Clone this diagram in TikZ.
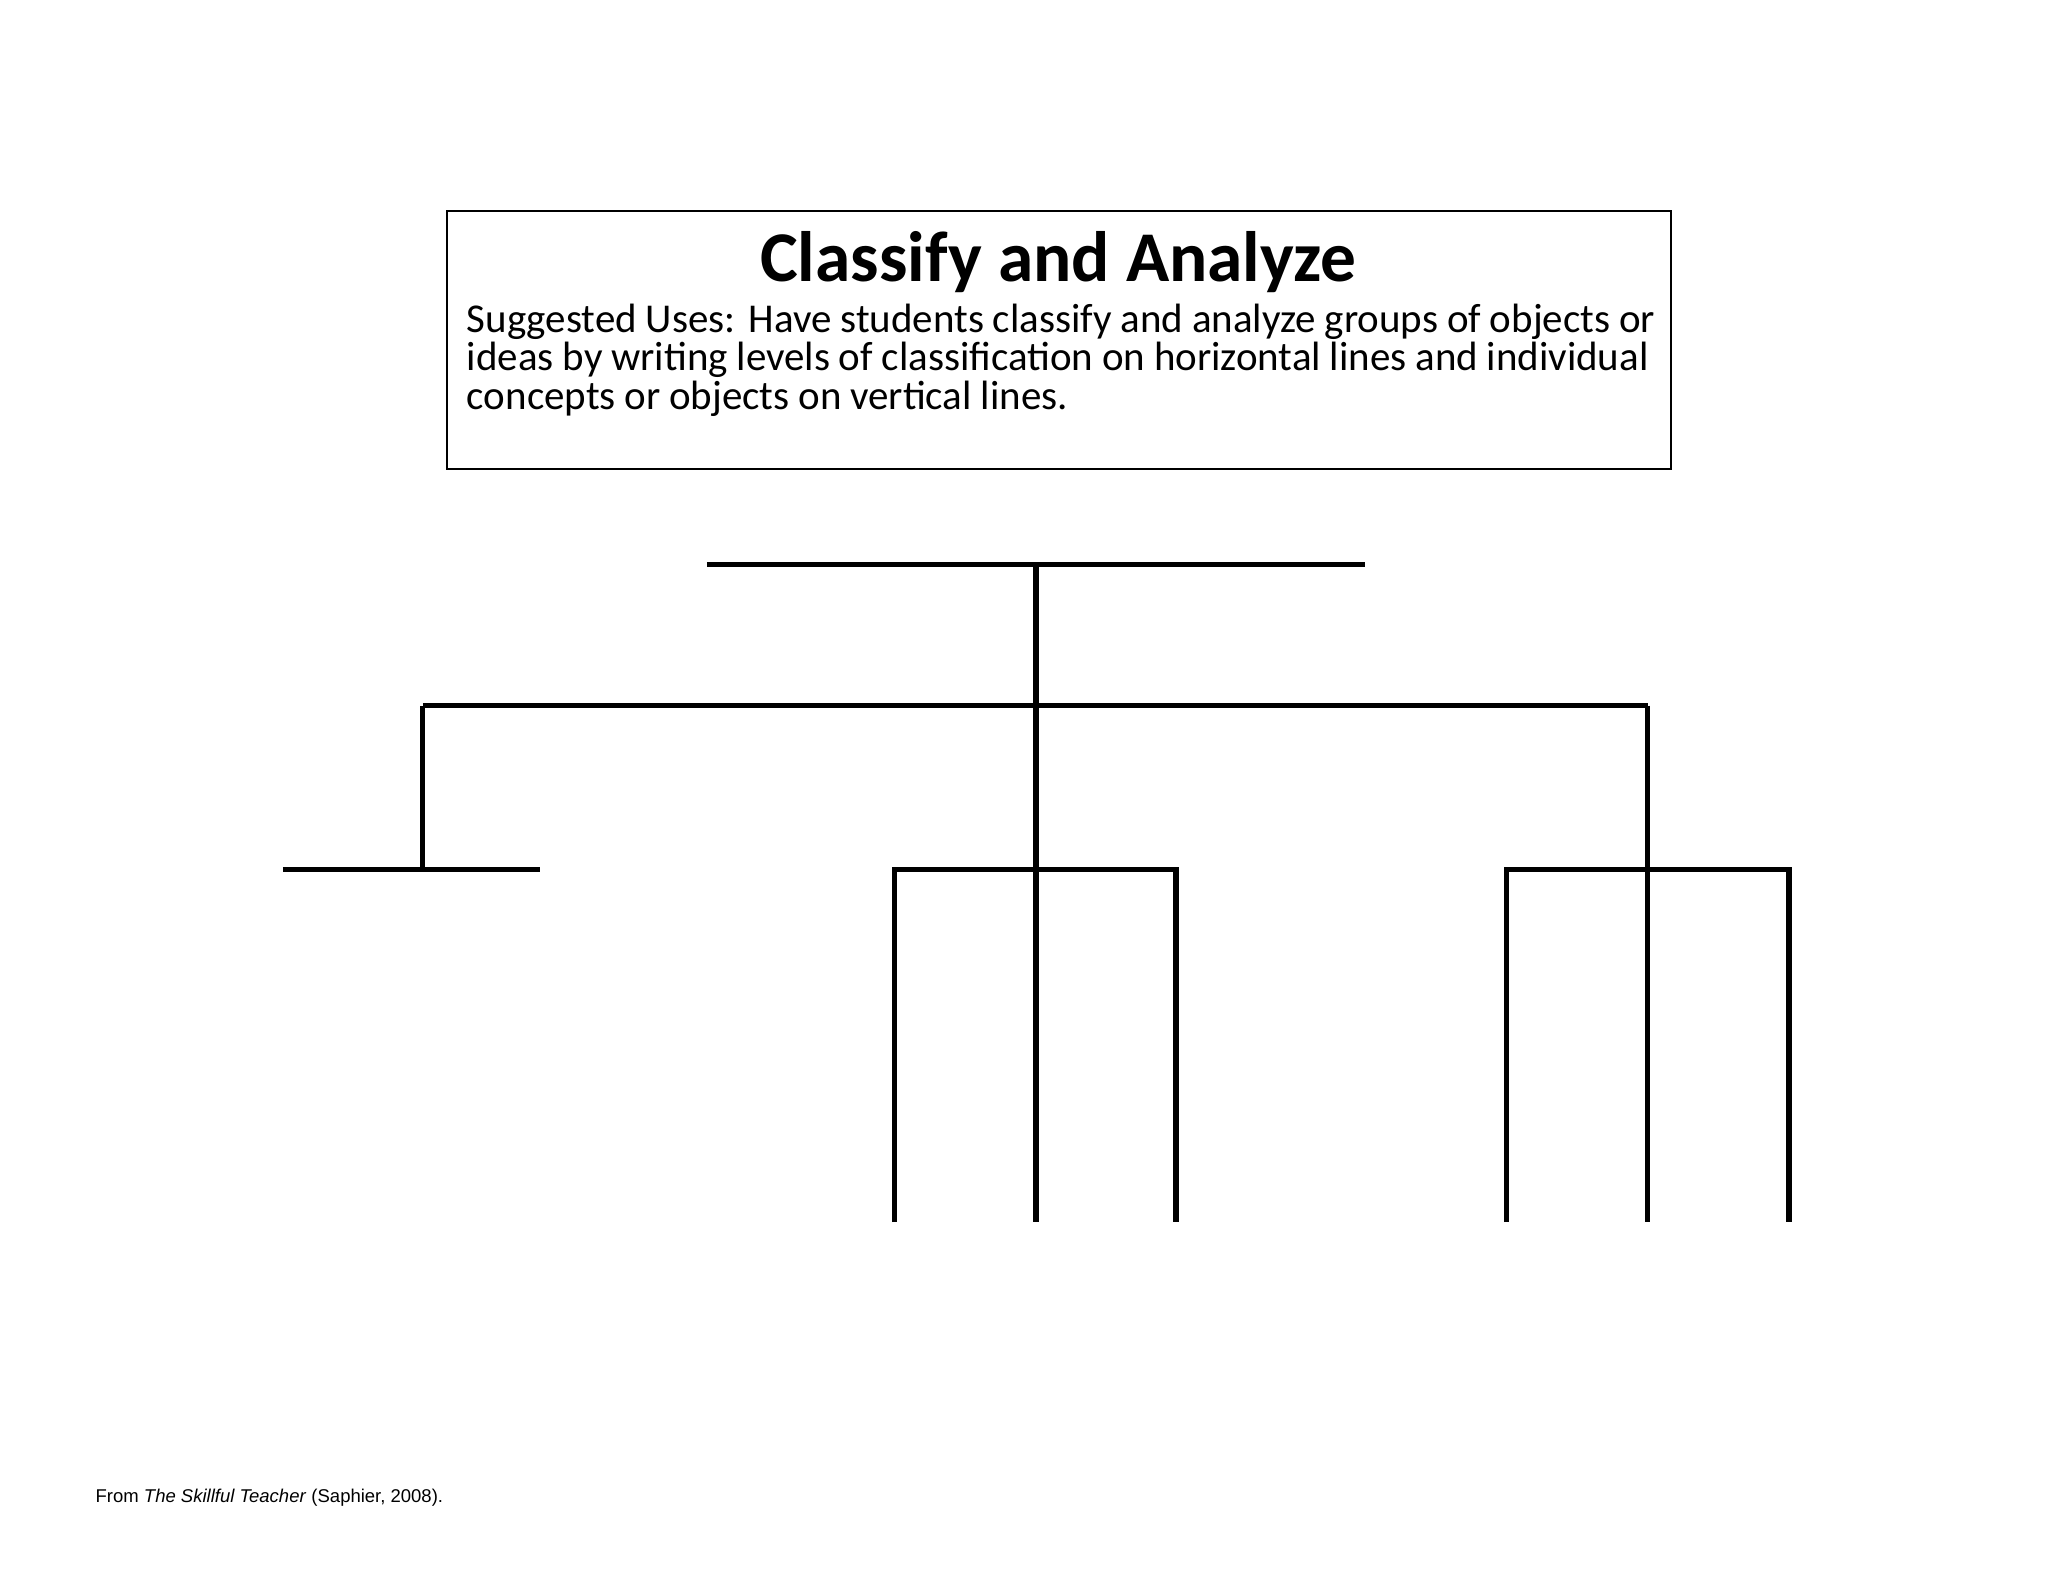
\documentclass[tikz,border=0pt]{standalone}
\usepackage{fontspec}
\setmainfont{Carlito}
\newfontfamily\arialf{Liberation Sans}
\begin{document}
\begin{tikzpicture}[x=0.5pt,y=-0.5pt,
  bar/.style={line width=2pt},
  frame/.style={draw,line width=0.75pt}]
\useasboundingbox (0,0) rectangle (1550,1197);
\draw[frame] (338,160) rectangle (1265,355);
\node[anchor=base] (title) at (801,213) {\fontsize{27pt}{30pt}\selectfont\bfseries Classify and Analyze};
\node[anchor=north west,inner sep=0pt,text width=450pt,align=left] (desc) at (353,230)
 {\fontsize{15.5pt}{17pt}\selectfont Suggested Uses: Have students classify and analyze groups of objects or ideas by writing levels of classification on horizontal lines and individual concepts or objects on vertical lines.};
\node[anchor=base west,inner sep=0pt] (foot) at (72,1137) {\arialf\fontsize{7pt}{8pt}\selectfont From \textit{The Skillful Teacher} (Saphier, 2008).};
% coordinates
\coordinate (t1) at (535,427); \coordinate (t2) at (1033,427); \coordinate (tc) at (784,427);
\coordinate (s1) at (320,534); \coordinate (s2) at (1247,534); \coordinate (sc) at (784,534);
\coordinate (l1) at (214,658); \coordinate (l2) at (409,658); \coordinate (lc) at (320,658);
\coordinate (m1) at (677,658); \coordinate (m2) at (890,658);
\coordinate (m1b) at (677,925); \coordinate (m2b) at (890,925); \coordinate (mcb) at (784,925);
\coordinate (r1) at (1140,658); \coordinate (r2) at (1354,658);
\coordinate (r1b) at (1140,925); \coordinate (r2b) at (1354,925); \coordinate (rcb) at (1247,925);
\draw[bar] (t1) -- (t2);
\draw[bar] (tc) -- (mcb);
\draw[bar] (s1) -- (s2);
\draw[bar] (s1) -- (lc);
\draw[bar] (l1) -- (l2);
\draw[bar] (m1b) -- (m1) -- (m2) -- (m2b);
\draw[bar] (s2) -- (rcb);
\draw[bar] (r1b) -- (r1) -- (r2) -- (r2b);
\end{tikzpicture}
\end{document}
